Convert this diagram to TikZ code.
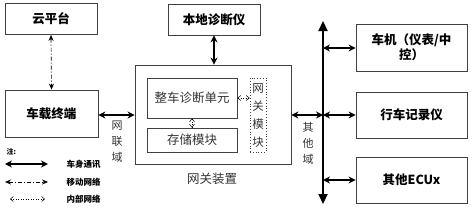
\documentclass[tikz,border=0pt]{standalone}
\usepackage{fontspec}
\setmainfont{Noto Sans CJK SC}
\usetikzlibrary{arrows.meta}
\begin{document}
\begin{tikzpicture}[x=1pt,y=-1pt,
  box/.style={draw=black!75,line width=0.8pt,inner sep=0pt},
  thickarr/.style={line width=1.8pt,{Stealth[length=7pt,width=7pt]}-{Stealth[length=7pt,width=7pt]}},
  mobarr/.style={line width=0.7pt,dash pattern=on 4pt off 2pt on 1pt off 2pt,{Stealth[length=6pt,width=5pt]}-{Stealth[length=6pt,width=5pt]}},
  inarr/.style={line width=0.5pt,dotted,{Straight Barb[length=3pt,width=5pt]}-{Straight Barb[length=3pt,width=5pt]}},
  blab/.style={font=\fontsize{12.5}{15}\selectfont\bfseries},
  rlab/.style={font=\fontsize{12.5}{14}\selectfont, text=black!80},
  vlab/.style={text=black!80,align=center,font=\fontsize{11}{16}\selectfont},
  legl/.style={font=\fontsize{8.5}{10}\selectfont\bfseries,anchor=west}]
\useasboundingbox (0,0) rectangle (474,209);
% left column
\node[box,blab,minimum width=92pt,minimum height=31pt] (cloud) at (51,19) {云平台};
\node[box,blab,minimum width=93pt,minimum height=47pt] (tbox) at (51.5,113.5) {车载终端};
% top
\node[box,blab,minimum width=92pt,minimum height=31pt] (diag) at (214,19.5) {本地诊断仪};
% gateway
\node[box,minimum width=156pt,minimum height=99pt] (gw) at (213,114.5) {};
\node[box,rlab,minimum width=90pt,minimum height=40pt] (unit) at (192,98) {整车诊断单元};
\node[box,rlab,minimum width=90pt,minimum height=24pt] (store) at (192,140) {存储模块};
\node[draw=black!75,dotted,line width=0.8pt,minimum width=16pt,minimum height=74pt,inner sep=0pt,text=black!80,align=center,font=\fontsize{11.5}{18}\selectfont] (gmod) at (258,115) {网\\关\\模\\块};
\node[rlab,anchor=north] (gwlab) at (212,169) {网关装置};
% right boxes
\node[box,blab,minimum width=111pt,minimum height=47pt,align=center,text width=95pt] (car) at (411.5,47.5) {车机（仪表/中\\控）};
\node[box,blab,minimum width=111pt,minimum height=46pt] (rec) at (411.5,115) {行车记录仪};
\node[box,blab,minimum width=111pt,minimum height=46pt] (ecu) at (411.5,180) {其他ECUx};
% bus
\coordinate (bt) at (323,21);
\coordinate (bb) at (323,204);
\draw[line width=2.2pt,{Triangle[length=10pt,width=9pt]}-{Triangle[length=10pt,width=9pt]}] (bt) -- (bb);
\coordinate (b1) at (323,48);
\coordinate (b2) at (323,115);
\coordinate (b3) at (323,180);
\draw[thickarr] (b1) -- (car.west|-b1);
\draw[thickarr] (b2) -- (rec.west|-b2);
\draw[thickarr] (b3) -- (ecu.west|-b3);
\draw[thickarr] (gw.east|-b2) -- (b2);
% left links
\draw[thickarr] (tbox.east|-b2) -- (gw.west|-b2);
\draw[mobarr] (cloud.south) -- (tbox.north);
\draw[thickarr] (diag.south) -- (diag.south|-gw.north);
\draw[inarr] (unit.east) -- (gmod.west|-unit.east);
\draw[inarr] (unit.south) -- (store.north);
% domain labels
\node[vlab] (wl) at (117,142) {网\\联\\域};
\node[vlab] (ql) at (308,143) {其\\他\\域};
% legend
\node[font=\fontsize{7}{8}\selectfont\bfseries,anchor=west] (zhu) at (3,152) {注:};
\coordinate (l1a) at (5,164); \coordinate (l1b) at (48,164);
\draw[thickarr] (l1a) -- (l1b);
\node[legl] (t1) at (63,164) {车身通讯};
\coordinate (l2a) at (5,182); \coordinate (l2b) at (48,182);
\draw[mobarr] (l2a) -- (l2b);
\node[legl] (t2) at (63,182) {移动网络};
\coordinate (l3a) at (10,199); \coordinate (l3b) at (45,199);
\draw[inarr] (l3a) -- (l3b);
\node[legl] (t3) at (63,199) {内部网络};
\end{tikzpicture}
\end{document}
